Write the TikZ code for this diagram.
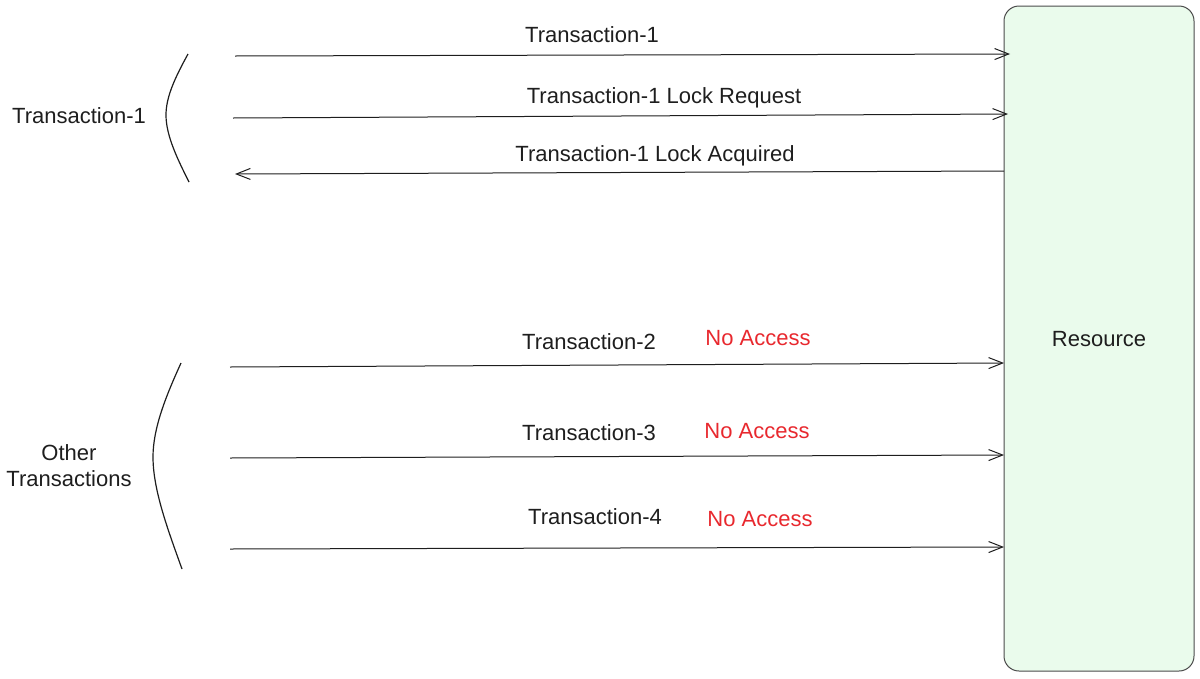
\documentclass[tikz,border=0pt]{standalone}
\usepackage{fontspec}
\setmainfont{Liberation Sans}
\usetikzlibrary{arrows.meta}
\definecolor{resfill}{HTML}{EAFBEC}
\definecolor{noaccess}{HTML}{E8282E}
\definecolor{ink}{HTML}{1E1E1E}
\begin{document}
\begin{tikzpicture}[x=1pt,y=-1pt,
                every node/.style={font=\fontsize{22}{26}\selectfont, inner sep=0pt,
                  text height=15.5pt, text depth=0pt, text=ink},
                msg/.style={draw=ink, line width=1pt,
                  -{Straight Barb[length=14pt,width=11pt,line width=1pt]}},
                brace/.style={draw=ink, line width=1.2pt},
                refused/.style={text=noaccess}
                ]
                \useasboundingbox (0,0) rectangle (1200,678);
                % the shared resource
                \node [draw=ink!80, fill=resfill, line width=1pt, rounded corners=15pt,
                  minimum width=190pt, minimum height=665pt] (r) at (1099,338.5) {Resource};
                % left and right ends of the messages
                \coordinate (a1) at (235,56);  \coordinate (b1) at (1010,54);
                \coordinate (a2) at (233,118); \coordinate (b2) at (1008,114);
                \coordinate (a3) at (235,174); \coordinate (b3) at (1004,171);
                \coordinate (a4) at (230,367); \coordinate (b4) at (1004,363);
                \coordinate (a5) at (230,458); \coordinate (b5) at (1004,455);
                \coordinate (a6) at (230,549); \coordinate (b6) at (1004,547);
                \draw [msg] (a1) -- (b1);
                \draw [msg] (a2) -- (b2);
                \draw [msg] (b3) -- (a3);
                \draw [msg] (a4) -- (b4);
                \draw [msg] (a5) -- (b5);
                \draw [msg] (a6) -- (b6);
                \node (l1) at (592,35) {Transaction-1};
                \node (l2) at (664,96) {Transaction-1 Lock Request};
                \node (l3) at (655,154) {Transaction-1 Lock Acquired};
                \node (l4) at (589,342) {Transaction-2};
                \node (l5) at (589,433) {Transaction-3};
                \node (l6) at (595,517) {Transaction-4};
                \node [refused] (n4) at (758,338) {No Access};
                \node [refused] (n5) at (757,431) {No Access};
                \node [refused] (n6) at (760,519) {No Access};
                % groups on the left
                \draw [brace] (188,54) .. controls (176,76) and (166,96) .. (166,115)
                  .. controls (166,136) and (178,160) .. (189,182);
                \draw [brace] (181,363) .. controls (166,396) and (153,428) .. (153,457)
                  .. controls (153,490) and (168,530) .. (182,569);
                \node (g1) at (79,116) {Transaction-1};
                \node [align=center, text height=, text depth=] (g2) at (69,466) {Other\\Transactions};
\end{tikzpicture}
\end{document}
